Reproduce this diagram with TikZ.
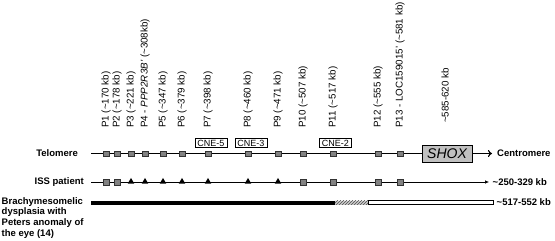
\documentclass[tikz,border=0pt]{standalone}
\usepackage{fontspec}
\setmainfont{Liberation Sans}
\usetikzlibrary{arrows.meta,positioning,calc,shapes.geometric,patterns}
\definecolor{probegray}{RGB}{130,130,130}
\definecolor{shoxgray}{RGB}{192,192,192}
\tikzset{
  probe/.style={draw=black!80,fill=probegray,minimum size=5.5pt,inner sep=0pt},
  deltri/.style={regular polygon,regular polygon sides=3,fill=black,minimum size=7.5pt,inner sep=0pt},
  plabel/.style={rotate=90,anchor=west,inner sep=0pt,font=\fontsize{9.8}{11}\selectfont},
  cnebox/.style={draw,inner xsep=2.5pt,inner ysep=1.2pt,font=\fontsize{9}{10}\selectfont},
  rowlabel/.style={inner sep=0pt,font=\fontsize{9.5}{10.8}\selectfont\bfseries},
}

\begin{document}
\begin{tikzpicture}[x=1pt,y=-1pt]
\useasboundingbox (0,0) rectangle (555,241);
\coordinate (tL) at (91,153.5);
\coordinate (tR) at (492,153.5);
\coordinate (iL) at (91,182);
\coordinate (iR) at (489,182);
\coordinate (lbase) at (0,128);
% telomere -> centromere
\node[draw,fill=shoxgray,minimum width=50pt,minimum height=17pt,inner sep=0pt,
  font=\fontsize{14}{14}\selectfont\itshape] (shox) at (447,153.5) {SHOX};
\draw[line width=1.1pt] (tL) -- (shox.west);
\draw[line width=1.1pt,-{To[length=4pt,width=7pt]}] (shox.east) -- (tR);
\foreach \x [count=\i] in {106,117,131,145,163,182,208,248,278,303,333,378,400}
  \node[probe] (t\i) at (\x,153.5) {};
% ISS patient
\draw[line width=0.6pt,-{Latex[length=4pt,width=3.5pt]}] (iL) -- (iR);
\foreach \i in {1,2,10,11,12,13}
  \node[probe] (s\i) at (t\i |- iL) {};
\foreach \i in {3,...,9}
  \node[deltri] (d\i) at ($(t\i |- iL)+(0,-0.3)$) {};
% probe labels
\foreach \i/\txt in {1/{P1 (\textasciitilde170 kb)},2/{P2 (\textasciitilde178 kb)},
    3/{P3 (\textasciitilde221 kb)},4/{P4 - \textit{PPP2R3B'} (\textasciitilde308kb)},
    5/{P5 (\textasciitilde347 kb)},6/{P6 (\textasciitilde379 kb)},7/{P7 (\textasciitilde398 kb)},
    8/{P8 (\textasciitilde460 kb)},9/{P9 (\textasciitilde471 kb)},10/{P10 (\textasciitilde507 kb)},
    11/{P11 (\textasciitilde517 kb)},12/{P12 (\textasciitilde555 kb)},
    13/{P13 - LOC159015' (\textasciitilde581 kb)}}
  \node[plabel] (l\i) at (t\i |- lbase) {\txt};
\node[plabel] (lshox) at ($(shox |- lbase)+(-2,-5)$) {\textasciitilde585-620 kb};
% conserved elements
\node[cnebox,above=3pt of t7,xshift=3pt] (cne5) {CNE-5};
\node[cnebox,above=3pt of t8,xshift=3pt] (cne3) {CNE-3};
\node[cnebox,above=3pt of t11,xshift=2.5pt] (cne2) {CNE-2};
% row labels
\node[rowlabel,left=13pt of tL] (tel) {Telomere};
\node[rowlabel,right=5pt of tR] (cen) {Centromere};
\node[rowlabel,left=7pt of iL] (iss) {ISS patient};
\node[rowlabel,right=3.5pt of iR] (issr) {\textasciitilde250-329 kb};
% Brachymesomelic deletion
\fill[black] (91,200.5) rectangle (335,204.5);
\fill[gray!40] (335,200.5) rectangle (368,204.5);
\fill[pattern=north east lines,pattern color=black!70] (335,200.5) rectangle (368,204.5);
\draw[line width=0.5pt] (368,200.5) rectangle (493,204.5);
\coordinate (bR) at (493,202.5);
\node[rowlabel,right=3.5pt of bR] (bdr) {\textasciitilde517-552 kb};
\node[rowlabel,anchor=north west,align=left] (bd) at (1.5,197)
  {Brachymesomelic\\dysplasia with\\Peters anomaly of\\the eye (14)};
\end{tikzpicture}
\end{document}
